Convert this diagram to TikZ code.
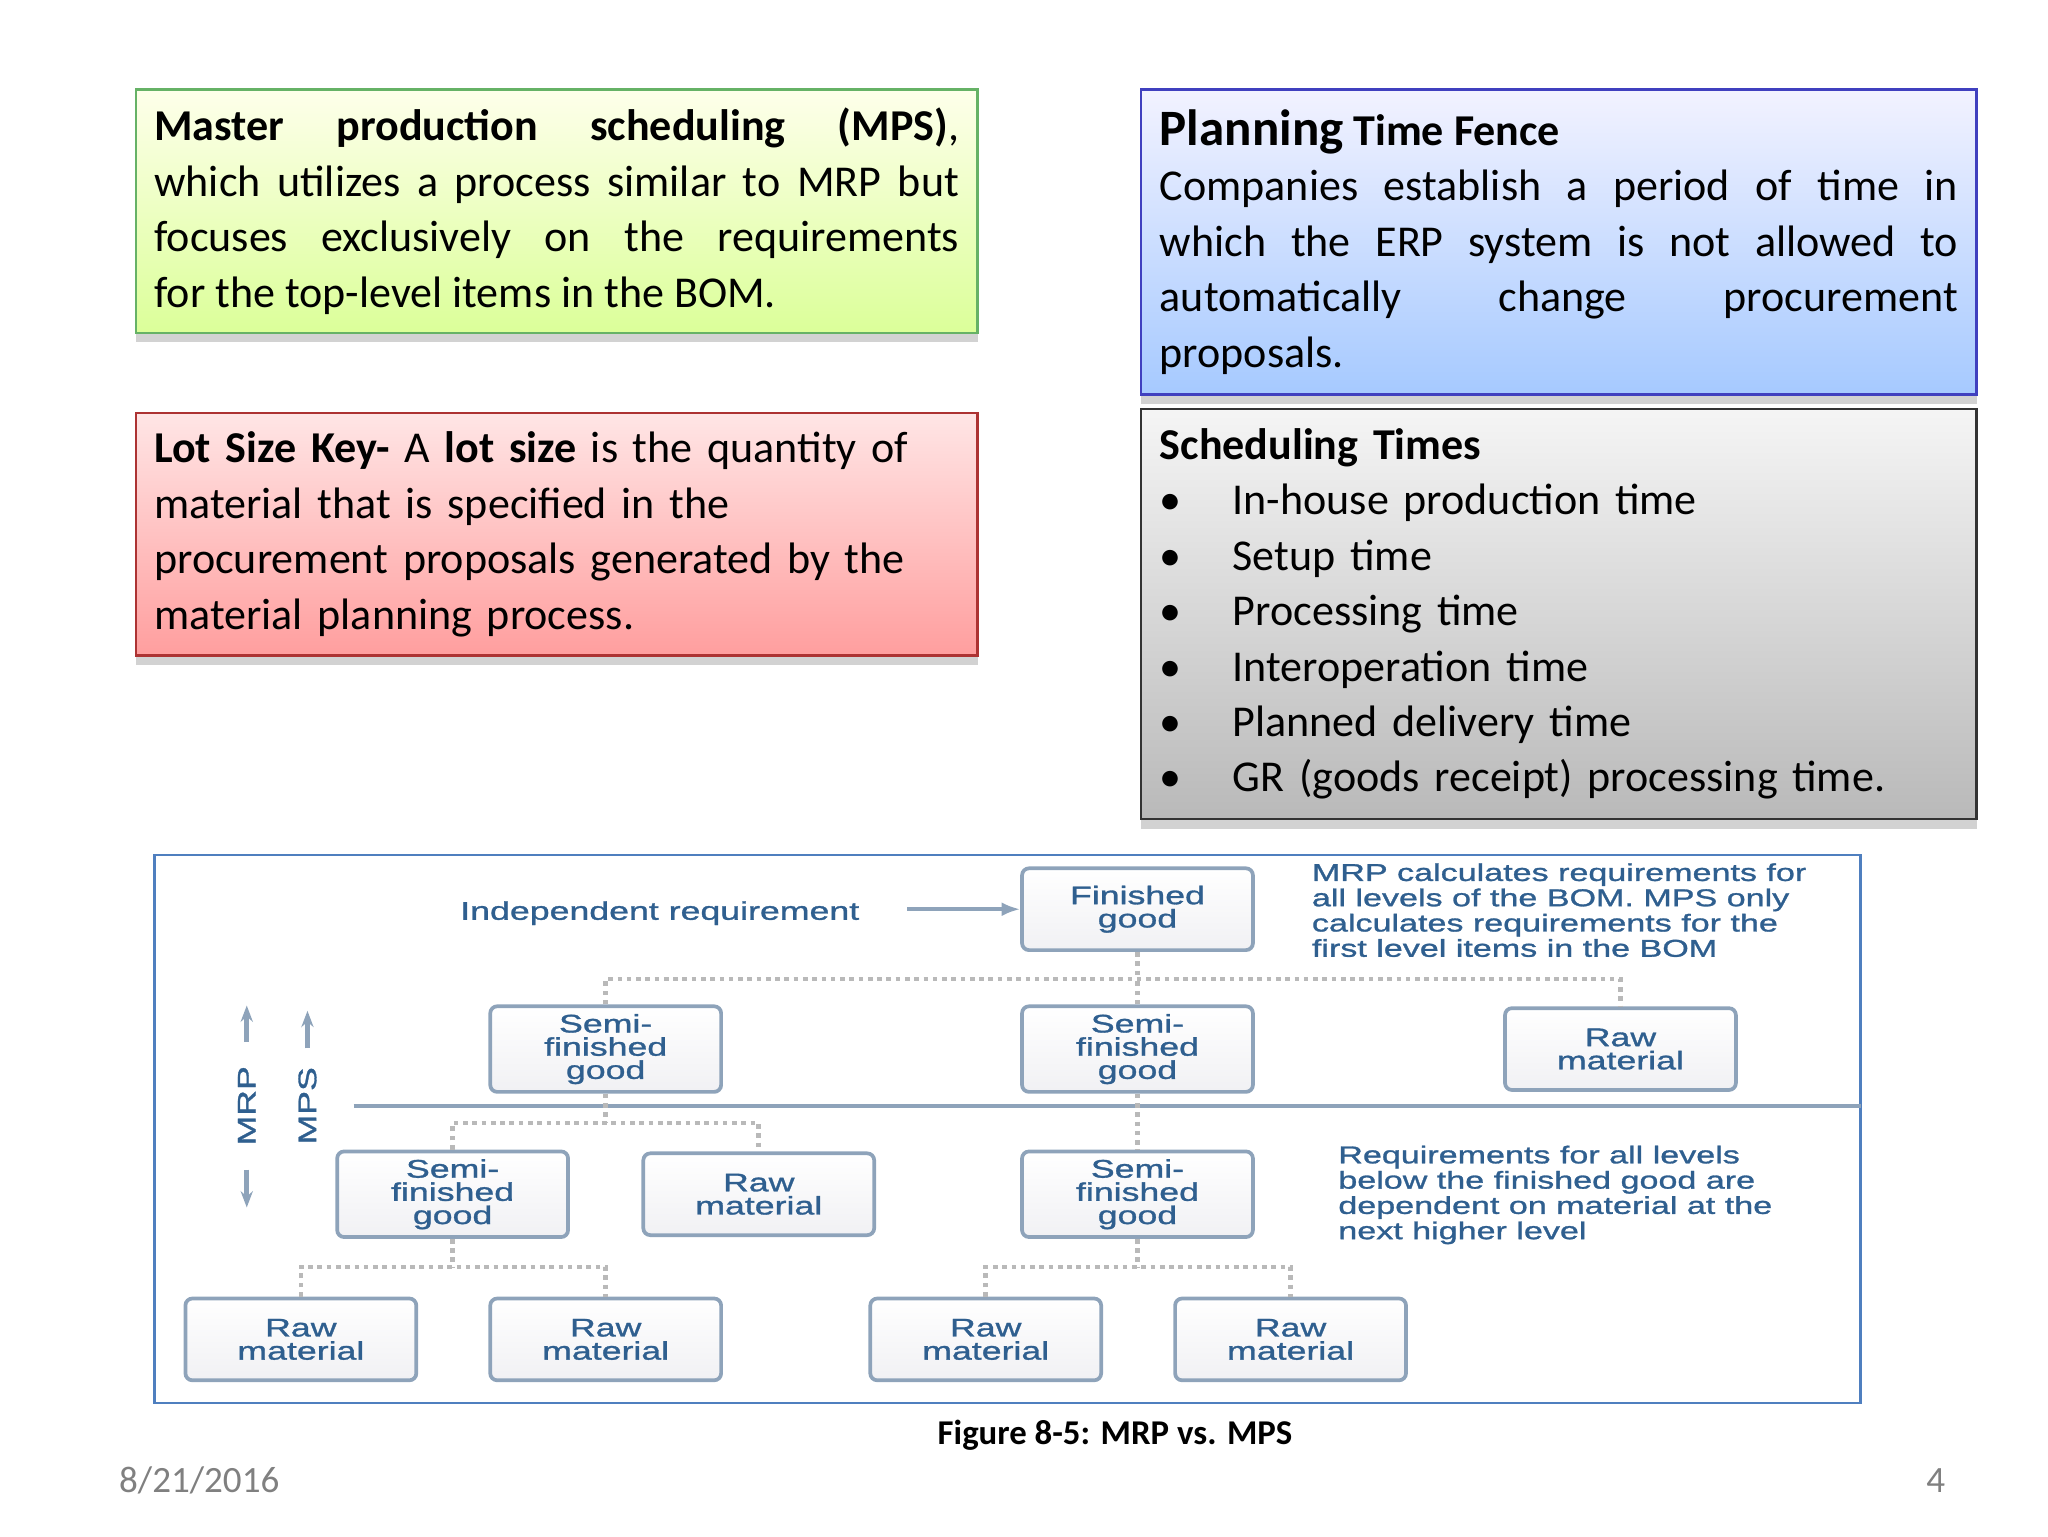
\documentclass[tikz,border=0pt]{standalone}
\usepackage{fontspec}
\setmainfont{Carlito}
\newfontfamily\figfont{Liberation Sans}[FakeStretch=1.4, FakeBold=1.2]
\usetikzlibrary{arrows.meta,shadows}
\definecolor{figblue}{HTML}{2F5F8F}
\definecolor{boxline}{HTML}{8EA3BA}
\definecolor{frameblue}{HTML}{4F7FBF}
\tikzset{
  slide/.style={draw, line width=1pt, inner xsep=8pt, inner ysep=8pt, anchor=north west,
    text width=#1, align=justify, font=\fontsize{19}{23.9}\selectfont,
    drop shadow={shadow xshift=0pt, shadow yshift=-4pt, fill=black!35}},
  part/.style={draw=boxline, line width=1.6pt, rounded corners=3pt, minimum width=3.5cm,
    minimum height=1.24cm, top color=white, bottom color=blue!12!gray!10,
    font=\figfont\fontsize{11}{10}\selectfont, text=figblue, align=center},
  tree/.style={dotted, line width=2pt, gray!55},
  note/.style={font=\figfont\fontsize{10.5}{10.9}\selectfont, text=figblue, align=left, anchor=north west}
}
\begin{document}
\hyphenpenalty=10000 \exhyphenpenalty=10000
\begin{tikzpicture}[x=0.02cm, y=-0.02cm]
\useasboundingbox (0,0) rectangle (1552,1164);

% --- text panels ---
\node[slide=12.2cm, draw=green!50!black!60, top color=green!6!yellow!8, bottom color=green!35!yellow!40, minimum height=3.68cm] (mps) at (102,67)
  {\textbf{Master production scheduling (MPS)},\linebreak which utilizes a process similar to MRP but\linebreak focuses exclusively on the requirements\linebreak for the top-level items in the BOM.\par};
\node[slide=12.2cm, align=left, draw=red!60!black!80, top color=red!10, bottom color=red!38, minimum height=3.68cm] (lot) at (102,312)
  {\textbf{Lot Size Key-} A \textbf{lot size} is the quantity of\\material that is specified in the\\procurement proposals generated by the\\material planning process.};
\node[slide=12.1cm, draw=blue!50!gray, top color=blue!5!white, bottom color=blue!60!cyan!35, minimum height=4.62cm] (fence) at (864,67)
  {{\fontsize{22}{26}\selectfont\textbf{Planning}} \textbf{Time Fence}\\
   Companies establish a period of time in\linebreak which the ERP system is not allowed to\linebreak automatically change procurement\linebreak proposals.\par};
\node[slide=12.1cm, align=left, draw=black!80, top color=gray!8, bottom color=gray!55, minimum height=6.22cm] (times) at (864,309)
  {\textbf{Scheduling Times}\\
   \textbullet\hspace{22pt}In-house production time\\
   \textbullet\hspace{22pt}Setup time\\
   \textbullet\hspace{22pt}Processing time\\
   \textbullet\hspace{22pt}Interoperation time\\
   \textbullet\hspace{22pt}Planned delivery time\\
   \textbullet\hspace{22pt}GR (goods receipt) processing time.};

% --- figure ---
\draw[frameblue, line width=1pt] (117,648) rectangle (1410,1063);
\draw[boxline, line width=1.5pt] (268,838) -- (1410,838);

\node[part] (fin) at (862,689) {Finished\\good};
\node[part] (s1) at (459,795) {Semi-\\finished\\good};
\node[part] (s2) at (862,795) {Semi-\\finished\\good};
\node[part] (r1) at (1228,795) {Raw\\material};
\node[part] (s3) at (343,905) {Semi-\\finished\\good};
\node[part] (r2) at (575,905) {Raw\\material};
\node[part] (s4) at (862,905) {Semi-\\finished\\good};
\node[part] (r3) at (228,1015) {Raw\\material};
\node[part] (r4) at (459,1015) {Raw\\material};
\node[part] (r5) at (747,1015) {Raw\\material};
\node[part] (r6) at (978,1015) {Raw\\material};

\draw[tree] (fin.south) -- (862,742) (s1.north) |- (r1.north |- 0,742) -- (r1.north);
\draw[tree] (s2.north) -- (862,742);
\draw[tree] (s1.south) -- (459,851) (s3.north) |- (r2.north |- 0,851) -- (r2.north);
\draw[tree] (s2.south) -- (s4.north);
\draw[tree] (s3.south) -- (343,960) (r3.north) |- (r4.north |- 0,960) -- (r4.north);
\draw[tree] (s4.south) -- (862,960) (r5.north) |- (r6.north |- 0,960) -- (r6.north);

\node[font=\figfont\fontsize{11}{14}\selectfont, text=figblue] (indep) at (500,692) {Independent requirement};
\draw[-{Latex[length=8pt]}, boxline, line width=1.5pt] (indep.east) ++(30,-3) -- (fin.west);

\node[note] (top) at (988,648) {MRP calculates requirements for\\all levels of the BOM. MPS only\\calculates requirements for the\\first level items in the BOM};
\node[note] (low) at (1008,862) {Requirements for all levels\\below the finished good are\\dependent on material at the\\next higher level};

\node[rotate=90, font=\figfont\fontsize{11}{12}\selectfont, text=figblue] (mrp) at (187,838) {MRP};
\node[rotate=90, font=\figfont\fontsize{11}{12}\selectfont, text=figblue] (mpsl) at (233,838) {MPS};
\coordinate (mrpt) at (187,762);
\coordinate (mrpb) at (187,915);
\coordinate (mpst) at (233,766);
\draw[-{Stealth[length=7pt]}, boxline, line width=2pt] (mrp.east) ++(0,-12) -- (mrpt);
\draw[-{Stealth[length=7pt]}, boxline, line width=2pt] (mrp.west) ++(0,12) -- (mrpb);
\draw[-{Stealth[length=7pt]}, boxline, line width=2pt] (mpsl.east) ++(0,-8) -- (mpst);

% --- footer ---
\node[font=\bfseries\fontsize{15}{18}\selectfont] (cap) at (845,1088) {Figure 8-5: MRP vs. MPS};
\node[font=\fontsize{16}{18}\selectfont, text=gray] (date) at (151,1122) {8/21/2016};
\node[font=\fontsize{16}{18}\selectfont, text=gray] (page) at (1467,1122) {4};
\end{tikzpicture}
\end{document}
